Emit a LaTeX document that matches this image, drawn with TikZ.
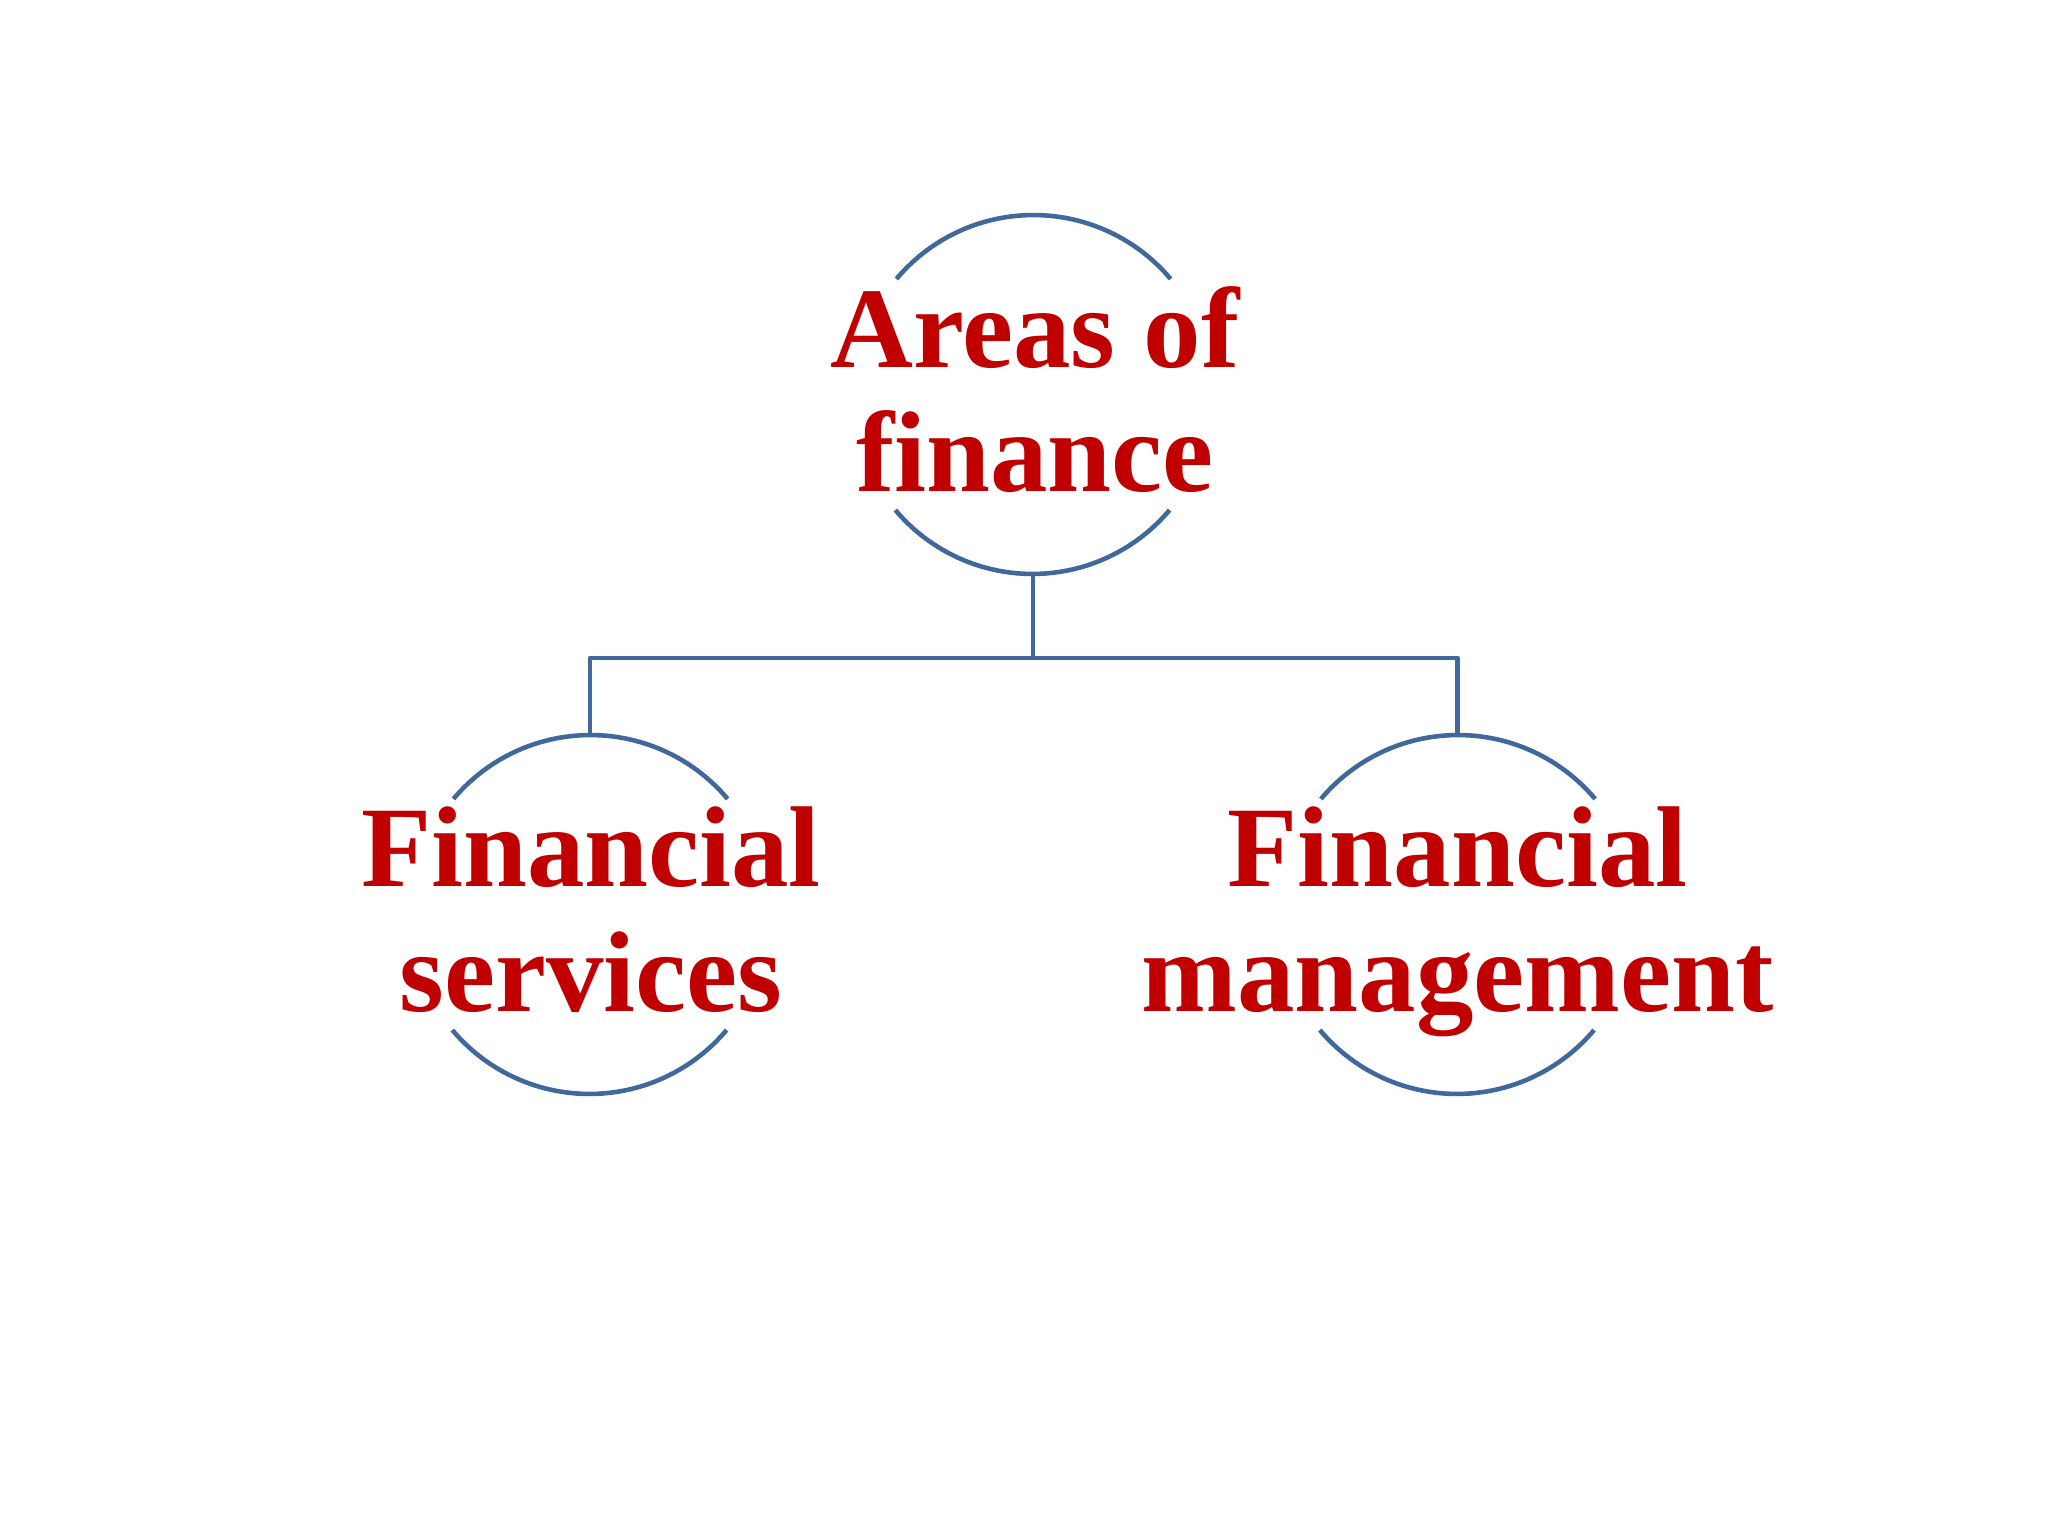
\documentclass[tikz,border=0pt]{standalone}
\usepackage{fontspec}
\setmainfont{Liberation Serif}
\definecolor{linkblue}{RGB}{64,104,154}
\definecolor{areared}{RGB}{192,0,0}
\tikzset{
  ring/.style={circle, minimum size=3.58cm, inner sep=0pt},
  ringline/.style={draw=linkblue, line width=1.3pt},
  caption/.style={text=areared, font=\fontsize{32.7}{35.3}\selectfont\bfseries,
    align=center, inner sep=0pt, anchor=base},
}
\begin{document}
\begin{tikzpicture}
  \useasboundingbox (0, 0) rectangle (20.48, -15.36);

  \node[ring] (areas) at (10.33, -3.945) {};
  \node[ring] (services) at (5.90, -9.145) {};
  \node[ring] (management) at (14.575, -9.145) {};

  \node[caption] (areastext) at (10.35, -4.92) {Areas of\\finance};
  \node[caption] (servicestext) at (5.91, -10.11) {Financial\\services};
  \node[caption] (managementtext) at (14.575, -10.11) {Financial\\management};

  % split arcs round each caption
  \foreach \n in {areas, services, management} {
    \draw[ringline] (\n.40) arc (40:140:1.79);
    \draw[ringline] (\n.220) arc (220:320:1.79);
  }

  \coordinate (bus) at (10.33, -6.58);
  \draw[ringline] (areas.south) -- (bus);
  \draw[ringline, line join=round] (services.north) |- (bus) -| (management.north);
\end{tikzpicture}
\end{document}
